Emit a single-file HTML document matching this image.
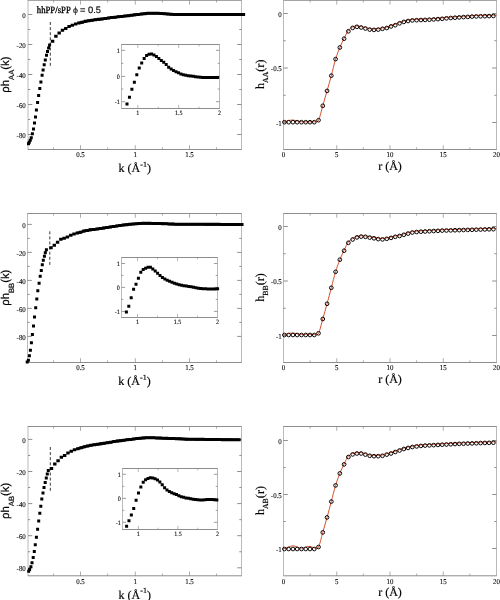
<!DOCTYPE html>
<html><head><meta charset="utf-8"><title>Figure</title>
<style>html,body{margin:0;padding:0;background:#fff;}body{width:500px;height:600px;overflow:hidden;}svg{display:block;}
text{fill:#000;stroke:#000;stroke-width:0.1px;text-rendering:geometricPrecision;} text.big{stroke-width:0.16px;}</style>
</head><body>
<svg width="500" height="600" viewBox="0 0 500 600">
<rect width="500" height="600" fill="#fff"/>
<path d="M27.75,0.3H241.75M27.75,149.5H241.75" fill="none" stroke="#808080" stroke-width="0.9"/>
<path d="M28,0.3V149.5M241.5,0.3V149.5" fill="none" stroke="#808080" stroke-width="0.55"/>
<path d="M80.5,149.5v-4.3M80.5,0.3v4.3M135.3,149.5v-4.3M135.3,0.3v4.3M189.5,149.5v-4.3M189.5,0.3v4.3M53.5,149.5v-2.2M53.5,0.3v2.2M107.6,149.5v-2.2M107.6,0.3v2.2M162.4,149.5v-2.2M162.4,0.3v2.2M216.5,149.5v-2.2M216.5,0.3v2.2" stroke="#808080" stroke-width="0.64" fill="none"/>
<path d="M28,14.5h4.3M241.5,14.5h-4.3M28,44.5h4.3M241.5,44.5h-4.3M28,74.5h4.3M241.5,74.5h-4.3M28,104.5h4.3M241.5,104.5h-4.3M28,134.5h4.3M241.5,134.5h-4.3M28,29.5h2.2M241.5,29.5h-2.2M28,59.5h2.2M241.5,59.5h-2.2M28,89.5h2.2M241.5,89.5h-2.2M28,119.5h2.2M241.5,119.5h-2.2" stroke="#808080" stroke-width="0.88" fill="none"/>
<text transform="translate(80.5,157.2) scale(0.92,1)" font-size="7.5" text-anchor="middle" font-family="'Liberation Serif', serif">0.5</text>
<text transform="translate(135.3,157.2) scale(0.92,1)" font-size="7.5" text-anchor="middle" font-family="'Liberation Serif', serif">1</text>
<text transform="translate(189.5,157.2) scale(0.92,1)" font-size="7.5" text-anchor="middle" font-family="'Liberation Serif', serif">1.5</text>
<text transform="translate(25.8,17.8) scale(0.92,1)" font-size="7.5" text-anchor="end" font-family="'Liberation Serif', serif">0</text>
<text transform="translate(25.8,47.8) scale(0.92,1)" font-size="7.5" text-anchor="end" font-family="'Liberation Serif', serif">-20</text>
<text transform="translate(25.8,77.8) scale(0.92,1)" font-size="7.5" text-anchor="end" font-family="'Liberation Serif', serif">-40</text>
<text transform="translate(25.8,107.8) scale(0.92,1)" font-size="7.5" text-anchor="end" font-family="'Liberation Serif', serif">-60</text>
<text transform="translate(25.8,137.8) scale(0.92,1)" font-size="7.5" text-anchor="end" font-family="'Liberation Serif', serif">-80</text>
<text class="big" x="134.75" y="172.3" font-size="12" text-anchor="middle" font-family="'Liberation Serif', serif">k (&#197;<tspan font-size="8" dy="-5.3">-1</tspan><tspan dy="5.3">)</tspan></text>
<text class="big" transform="translate(9.1,74.6) rotate(-90)" x="0" y="0" font-size="11.4" text-anchor="middle" font-family="'Liberation Sans', sans-serif">&#961;h<tspan font-size="7.6" dy="4.5">AA</tspan><tspan dy="-4.5">(k)</tspan></text>
<line x1="50.3" y1="22" x2="50.3" y2="66.5" stroke="#222" stroke-width="0.9" stroke-dasharray="3.0,2.1"/>
<path d="M27,142.25h3v3h-3zM27.75,140.75h3v3h-3zM28.75,138.75h3v3h-3zM29.75,136.25h3v3h-3zM30.9,132.25h3v3h-3zM32,127.5h3v3h-3zM33,121.6h3v3h-3zM34,115.4h3v3h-3zM34.9,108.4h3v3h-3zM36.1,101.1h3v3h-3zM37.15,94h3v3h-3zM38.3,86.9h3v3h-3zM39.4,80.5h3v3h-3zM40.6,73.8h3v3h-3zM41.6,68.5h3v3h-3zM42.7,63.2h3v3h-3zM43.8,58.5h3v3h-3zM45,53.8h3v3h-3zM46,50.1h3v3h-3zM47.1,46.5h3v3h-3zM48.1,43.5h3v3h-3z" fill="#000"/>
<polyline points="78.92,23.09 82.21,22.2 85.5,21.37 88.79,20.7 92.08,20.2 95.37,19.76 98.66,19.35 101.95,18.94 105.24,18.5 108.53,18.05 111.82,17.61 115.11,17.19 118.4,16.8 121.69,16.43 124.98,16.07 128.27,15.7 131.56,15.31 134.85,14.87 138.14,14.42 141.43,13.99 144.72,13.63 148.01,13.29 151.3,13.2 154.59,13.23 157.88,13.32 161.17,13.57 164.46,13.8 167.75,14.03 171.04,14.24 174.33,14.39 177.62,14.44 180.91,14.48 184.2,14.51 187.49,14.54 190.78,14.55 194.07,14.57 197.36,14.58 200.65,14.59 203.94,14.6 207.23,14.6 210.52,14.6 213.81,14.6 217.1,14.6 220.39,14.6 223.68,14.6 226.97,14.6 230.26,14.6 233.55,14.6 236.84,14.6 240.13,14.6 243.42,14.6" fill="none" stroke="#000" stroke-width="2.6" stroke-linejoin="round"/>
<path d="M50.9,39.7h3.4v3h-3.4zM54.19,34.69h3.4v3h-3.4zM57.48,31.43h3.4v3h-3.4zM60.77,28.75h3.4v3h-3.4zM64.06,26.97h3.4v3h-3.4zM67.35,24.98h3.4v3h-3.4zM70.64,23.68h3.4v3h-3.4zM73.93,22.49h3.4v3h-3.4zM77.22,21.59h3.4v3h-3.4zM80.51,20.7h3.4v3h-3.4zM83.8,19.87h3.4v3h-3.4zM87.09,19.2h3.4v3h-3.4zM90.38,18.7h3.4v3h-3.4zM93.67,18.26h3.4v3h-3.4zM96.96,17.85h3.4v3h-3.4zM100.25,17.44h3.4v3h-3.4zM103.54,17h3.4v3h-3.4zM106.83,16.55h3.4v3h-3.4zM110.12,16.11h3.4v3h-3.4zM113.41,15.69h3.4v3h-3.4zM116.7,15.3h3.4v3h-3.4zM119.99,14.93h3.4v3h-3.4zM123.28,14.57h3.4v3h-3.4zM126.57,14.2h3.4v3h-3.4zM129.86,13.81h3.4v3h-3.4zM133.15,13.37h3.4v3h-3.4zM136.44,12.92h3.4v3h-3.4zM139.73,12.49h3.4v3h-3.4zM143.02,12.13h3.4v3h-3.4zM146.31,11.79h3.4v3h-3.4zM149.6,11.7h3.4v3h-3.4zM152.89,11.73h3.4v3h-3.4zM156.18,11.82h3.4v3h-3.4zM159.47,12.07h3.4v3h-3.4zM162.76,12.3h3.4v3h-3.4zM166.05,12.53h3.4v3h-3.4zM169.34,12.74h3.4v3h-3.4zM172.63,12.89h3.4v3h-3.4zM175.92,12.94h3.4v3h-3.4zM179.21,12.98h3.4v3h-3.4zM182.5,13.01h3.4v3h-3.4zM185.79,13.04h3.4v3h-3.4zM189.08,13.05h3.4v3h-3.4zM192.37,13.07h3.4v3h-3.4zM195.66,13.08h3.4v3h-3.4zM198.95,13.09h3.4v3h-3.4zM202.24,13.1h3.4v3h-3.4zM205.53,13.1h3.4v3h-3.4zM208.82,13.1h3.4v3h-3.4zM212.11,13.1h3.4v3h-3.4zM215.4,13.1h3.4v3h-3.4zM218.69,13.1h3.4v3h-3.4zM221.98,13.1h3.4v3h-3.4zM225.27,13.1h3.4v3h-3.4zM228.56,13.1h3.4v3h-3.4zM231.85,13.1h3.4v3h-3.4zM235.14,13.1h3.4v3h-3.4zM238.43,13.1h3.4v3h-3.4zM241.72,13.1h3.4v3h-3.4z" fill="#000"/>
<path d="M121.25,44.5H219.75M121.25,108.5H219.75" fill="none" stroke="#808080" stroke-width="0.9"/>
<path d="M121.5,44.5V108.5M219.5,44.5V108.5" fill="none" stroke="#808080" stroke-width="0.55"/>
<path d="M137.83,108.5v-3.6M137.83,44.5v3.6M178.67,108.5v-3.6M178.67,44.5v3.6M158.25,108.5v-1.8M158.25,44.5v1.8M199.08,108.5v-1.8M199.08,44.5v1.8" stroke="#808080" stroke-width="0.56" fill="none"/>
<path d="M121.5,50.3h3.6M219.5,50.3h-3.6M121.5,76.4h3.6M219.5,76.4h-3.6M121.5,101.7h3.6M219.5,101.7h-3.6M121.5,63.35h1.8M219.5,63.35h-1.8M121.5,89.05h1.8M219.5,89.05h-1.8" stroke="#808080" stroke-width="0.77" fill="none"/>
<text transform="translate(137.83,115.1) scale(0.92,1)" font-size="6.6" text-anchor="middle" font-family="'Liberation Serif', serif">1</text>
<text transform="translate(178.67,115.1) scale(0.92,1)" font-size="6.6" text-anchor="middle" font-family="'Liberation Serif', serif">1.5</text>
<text transform="translate(219.5,115.1) scale(0.92,1)" font-size="6.6" text-anchor="middle" font-family="'Liberation Serif', serif">2</text>
<text transform="translate(119.9,52.9) scale(0.92,1)" font-size="6.6" text-anchor="end" font-family="'Liberation Serif', serif">1</text>
<text transform="translate(119.9,79) scale(0.92,1)" font-size="6.6" text-anchor="end" font-family="'Liberation Serif', serif">0</text>
<text transform="translate(119.9,104.3) scale(0.92,1)" font-size="6.6" text-anchor="end" font-family="'Liberation Serif', serif">-1</text>
<path d="M125.5,102.5h3v3h-3zM127.95,95.65h3v3h-3zM130.4,87.7h3v3h-3zM132.85,80.85h3v3h-3zM135.3,73.3h3v3h-3zM137.75,66.62h3v3h-3zM140.2,61.4h3v3h-3zM142.65,57.08h3v3h-3zM145.1,53.93h3v3h-3zM147.55,52.69h3v3h-3zM150,52.4h3v3h-3zM152.45,53.53h3v3h-3zM154.9,54.97h3v3h-3zM157.35,57.04h3v3h-3zM159.8,58.93h3v3h-3zM162.25,60.68h3v3h-3zM164.7,63.09h3v3h-3zM167.15,65.74h3v3h-3zM169.6,67.61h3v3h-3zM172.05,69.06h3v3h-3zM174.5,70.25h3v3h-3zM176.95,71.35h3v3h-3zM179.4,72.4h3v3h-3zM181.85,73.19h3v3h-3zM184.3,73.74h3v3h-3zM186.75,74.18h3v3h-3zM189.2,74.55h3v3h-3zM191.65,74.87h3v3h-3zM194.1,75.18h3v3h-3zM196.55,75.5h3v3h-3zM199,75.76h3v3h-3zM201.45,75.94h3v3h-3zM203.9,76.07h3v3h-3zM206.35,76.1h3v3h-3zM208.8,76.1h3v3h-3zM211.25,76.1h3v3h-3zM213.7,76.1h3v3h-3zM216.15,76.1h3v3h-3z" fill="#000"/>
<text class="big" style="stroke-width:0.32px" transform="translate(36.8,13.0) scale(0.9,1)" font-size="9.7" font-family="'Liberation Serif', serif">hhPP/sPP</text>
<text class="big" x="75.4" y="12.9" font-size="9.4" text-anchor="middle" font-family="'Liberation Serif', serif">&#981;</text>
<text class="big" x="80.1" y="12.6" font-size="9.3" font-family="'Liberation Sans', sans-serif">= 0.5</text>
<path d="M27.25,213.5H241.75M27.25,362.5H241.75" fill="none" stroke="#808080" stroke-width="0.9"/>
<path d="M27.5,213.5V362.5M241.5,213.5V362.5" fill="none" stroke="#808080" stroke-width="0.55"/>
<path d="M80.5,362.5v-4.3M80.5,213.5v4.3M135.3,362.5v-4.3M135.3,213.5v4.3M189.5,362.5v-4.3M189.5,213.5v4.3M53.5,362.5v-2.2M53.5,213.5v2.2M107.6,362.5v-2.2M107.6,213.5v2.2M162.4,362.5v-2.2M162.4,213.5v2.2M216.5,362.5v-2.2M216.5,213.5v2.2" stroke="#808080" stroke-width="0.64" fill="none"/>
<path d="M27.5,224.4h4.3M241.5,224.4h-4.3M27.5,252.4h4.3M241.5,252.4h-4.3M27.5,280.4h4.3M241.5,280.4h-4.3M27.5,308.4h4.3M241.5,308.4h-4.3M27.5,336.4h4.3M241.5,336.4h-4.3M27.5,238.4h2.2M241.5,238.4h-2.2M27.5,266.4h2.2M241.5,266.4h-2.2M27.5,294.4h2.2M241.5,294.4h-2.2M27.5,322.4h2.2M241.5,322.4h-2.2" stroke="#808080" stroke-width="0.88" fill="none"/>
<text transform="translate(80.5,370.2) scale(0.92,1)" font-size="7.5" text-anchor="middle" font-family="'Liberation Serif', serif">0.5</text>
<text transform="translate(135.3,370.2) scale(0.92,1)" font-size="7.5" text-anchor="middle" font-family="'Liberation Serif', serif">1</text>
<text transform="translate(189.5,370.2) scale(0.92,1)" font-size="7.5" text-anchor="middle" font-family="'Liberation Serif', serif">1.5</text>
<text transform="translate(25.8,227.7) scale(0.92,1)" font-size="7.5" text-anchor="end" font-family="'Liberation Serif', serif">0</text>
<text transform="translate(25.8,255.7) scale(0.92,1)" font-size="7.5" text-anchor="end" font-family="'Liberation Serif', serif">-20</text>
<text transform="translate(25.8,283.7) scale(0.92,1)" font-size="7.5" text-anchor="end" font-family="'Liberation Serif', serif">-40</text>
<text transform="translate(25.8,311.7) scale(0.92,1)" font-size="7.5" text-anchor="end" font-family="'Liberation Serif', serif">-60</text>
<text transform="translate(25.8,339.7) scale(0.92,1)" font-size="7.5" text-anchor="end" font-family="'Liberation Serif', serif">-80</text>
<text class="big" x="134.5" y="385.3" font-size="12" text-anchor="middle" font-family="'Liberation Serif', serif">k (&#197;<tspan font-size="8" dy="-5.3">-1</tspan><tspan dy="5.3">)</tspan></text>
<text class="big" transform="translate(9.1,287.7) rotate(-90)" x="0" y="0" font-size="11.4" text-anchor="middle" font-family="'Liberation Sans', sans-serif">&#961;h<tspan font-size="7.6" dy="4.5">BB</tspan><tspan dy="-4.5">(k)</tspan></text>
<line x1="49.8" y1="231.3" x2="49.8" y2="265.3" stroke="#222" stroke-width="0.9" stroke-dasharray="3.0,2.1"/>
<path d="M25.7,360.5h3v3h-3zM26.9,358.7h3v3h-3zM27.9,354.3h3v3h-3zM28.9,348.7h3v3h-3zM29.9,341.3h3v3h-3zM30.9,333.1h3v3h-3zM32,324.5h3v3h-3zM33,315.5h3v3h-3zM34.2,306.3h3v3h-3zM35.3,297.5h3v3h-3zM36.3,289.2h3v3h-3zM37.6,281.7h3v3h-3zM38.7,274.8h3v3h-3zM39.8,268.9h3v3h-3zM40.8,263.2h3v3h-3zM41.8,258.8h3v3h-3zM42.9,254.8h3v3h-3zM43.8,251.2h3v3h-3zM44.9,248.2h3v3h-3z" fill="#000"/>
<polyline points="77.32,233.07 80.61,232.17 83.9,231.12 87.19,230.39 90.48,229.87 93.77,229.44 97.06,229.03 100.35,228.59 103.64,228.09 106.93,227.55 110.22,227 113.51,226.47 116.8,225.99 120.09,225.51 123.38,225.05 126.67,224.64 129.96,224.29 133.25,224.01 136.54,223.74 139.83,223.51 143.12,223.35 146.41,223.3 149.7,223.33 152.99,223.39 156.28,223.47 159.57,223.56 162.86,223.66 166.15,223.81 169.44,223.98 172.73,224.12 176.02,224.2 179.31,224.23 182.6,224.25 185.89,224.27 189.18,224.28 192.47,224.29 195.76,224.3 199.05,224.31 202.34,224.32 205.63,224.33 208.92,224.34 212.21,224.35 215.5,224.36 218.79,224.37 222.08,224.38 225.37,224.38 228.66,224.39 231.95,224.39 235.24,224.4 238.53,224.4 241.82,224.4" fill="none" stroke="#000" stroke-width="2.6" stroke-linejoin="round"/>
<path d="M49.3,246.2h3.4v3h-3.4zM52.59,243.83h3.4v3h-3.4zM55.88,240.73h3.4v3h-3.4zM59.17,237.81h3.4v3h-3.4zM62.46,236.64h3.4v3h-3.4zM65.75,235.43h3.4v3h-3.4zM69.04,233.64h3.4v3h-3.4zM72.33,232.46h3.4v3h-3.4zM75.62,231.57h3.4v3h-3.4zM78.91,230.67h3.4v3h-3.4zM82.2,229.62h3.4v3h-3.4zM85.49,228.89h3.4v3h-3.4zM88.78,228.37h3.4v3h-3.4zM92.07,227.94h3.4v3h-3.4zM95.36,227.53h3.4v3h-3.4zM98.65,227.09h3.4v3h-3.4zM101.94,226.59h3.4v3h-3.4zM105.23,226.05h3.4v3h-3.4zM108.52,225.5h3.4v3h-3.4zM111.81,224.97h3.4v3h-3.4zM115.1,224.49h3.4v3h-3.4zM118.39,224.01h3.4v3h-3.4zM121.68,223.55h3.4v3h-3.4zM124.97,223.14h3.4v3h-3.4zM128.26,222.79h3.4v3h-3.4zM131.55,222.51h3.4v3h-3.4zM134.84,222.24h3.4v3h-3.4zM138.13,222.01h3.4v3h-3.4zM141.42,221.85h3.4v3h-3.4zM144.71,221.8h3.4v3h-3.4zM148,221.83h3.4v3h-3.4zM151.29,221.89h3.4v3h-3.4zM154.58,221.97h3.4v3h-3.4zM157.87,222.06h3.4v3h-3.4zM161.16,222.16h3.4v3h-3.4zM164.45,222.31h3.4v3h-3.4zM167.74,222.48h3.4v3h-3.4zM171.03,222.62h3.4v3h-3.4zM174.32,222.7h3.4v3h-3.4zM177.61,222.73h3.4v3h-3.4zM180.9,222.75h3.4v3h-3.4zM184.19,222.77h3.4v3h-3.4zM187.48,222.78h3.4v3h-3.4zM190.77,222.79h3.4v3h-3.4zM194.06,222.8h3.4v3h-3.4zM197.35,222.81h3.4v3h-3.4zM200.64,222.82h3.4v3h-3.4zM203.93,222.83h3.4v3h-3.4zM207.22,222.84h3.4v3h-3.4zM210.51,222.85h3.4v3h-3.4zM213.8,222.86h3.4v3h-3.4zM217.09,222.87h3.4v3h-3.4zM220.38,222.88h3.4v3h-3.4zM223.67,222.88h3.4v3h-3.4zM226.96,222.89h3.4v3h-3.4zM230.25,222.89h3.4v3h-3.4zM233.54,222.9h3.4v3h-3.4zM236.83,222.9h3.4v3h-3.4zM240.12,222.9h3.4v3h-3.4z" fill="#000"/>
<path d="M121.25,257.5H217.75M121.25,317.5H217.75" fill="none" stroke="#808080" stroke-width="0.9"/>
<path d="M121.5,257.5V317.5M217.5,257.5V317.5" fill="none" stroke="#808080" stroke-width="0.55"/>
<path d="M137.5,317.5v-3.6M137.5,257.5v3.6M177.5,317.5v-3.6M177.5,257.5v3.6M157.5,317.5v-1.8M157.5,257.5v1.8M197.5,317.5v-1.8M197.5,257.5v1.8" stroke="#808080" stroke-width="0.56" fill="none"/>
<path d="M121.5,263.5h3.6M217.5,263.5h-3.6M121.5,287.4h3.6M217.5,287.4h-3.6M121.5,311.4h3.6M217.5,311.4h-3.6M121.5,275.45h1.8M217.5,275.45h-1.8M121.5,299.4h1.8M217.5,299.4h-1.8" stroke="#808080" stroke-width="0.77" fill="none"/>
<text transform="translate(137.5,324.1) scale(0.92,1)" font-size="6.6" text-anchor="middle" font-family="'Liberation Serif', serif">1</text>
<text transform="translate(177.5,324.1) scale(0.92,1)" font-size="6.6" text-anchor="middle" font-family="'Liberation Serif', serif">1.5</text>
<text transform="translate(217.5,324.1) scale(0.92,1)" font-size="6.6" text-anchor="middle" font-family="'Liberation Serif', serif">2</text>
<text transform="translate(119.9,266.1) scale(0.92,1)" font-size="6.6" text-anchor="end" font-family="'Liberation Serif', serif">1</text>
<text transform="translate(119.9,290) scale(0.92,1)" font-size="6.6" text-anchor="end" font-family="'Liberation Serif', serif">0</text>
<text transform="translate(119.9,314) scale(0.92,1)" font-size="6.6" text-anchor="end" font-family="'Liberation Serif', serif">-1</text>
<path d="M124.9,310.6h3v3h-3zM127.3,304.78h3v3h-3zM129.7,296.19h3v3h-3zM132.1,287.84h3v3h-3zM134.5,282.86h3v3h-3zM136.9,276.77h3v3h-3zM139.3,270.82h3v3h-3zM141.7,268.11h3v3h-3zM144.1,266.83h3v3h-3zM146.5,265.73h3v3h-3zM148.9,265.7h3v3h-3zM151.3,267.42h3v3h-3zM153.7,269.61h3v3h-3zM156.1,271.7h3v3h-3zM158.5,273.99h3v3h-3zM160.9,276.07h3v3h-3zM163.3,277.5h3v3h-3zM165.7,278.68h3v3h-3zM168.1,279.77h3v3h-3zM170.5,280.83h3v3h-3zM172.9,281.77h3v3h-3zM175.3,282.54h3v3h-3zM177.7,283.17h3v3h-3zM180.1,283.72h3v3h-3zM182.5,284.18h3v3h-3zM184.9,284.55h3v3h-3zM187.3,284.9h3v3h-3zM189.7,285.33h3v3h-3zM192.1,285.86h3v3h-3zM194.5,286.35h3v3h-3zM196.9,286.68h3v3h-3zM199.3,286.93h3v3h-3zM201.7,287.14h3v3h-3zM204.1,287.32h3v3h-3zM206.5,287.5h3v3h-3zM208.9,287.6h3v3h-3zM211.3,287.58h3v3h-3zM213.7,287.5h3v3h-3zM216.1,287.33h3v3h-3z" fill="#000"/>
<path d="M27.75,426.5H241.75M27.75,575.8H241.75" fill="none" stroke="#808080" stroke-width="0.9"/>
<path d="M28,426.5V575.8M241.5,426.5V575.8" fill="none" stroke="#808080" stroke-width="0.55"/>
<path d="M80.5,575.8v-4.3M80.5,426.5v4.3M135.3,575.8v-4.3M135.3,426.5v4.3M189.5,575.8v-4.3M189.5,426.5v4.3M53.5,575.8v-2.2M53.5,426.5v2.2M107.6,575.8v-2.2M107.6,426.5v2.2M162.4,575.8v-2.2M162.4,426.5v2.2M216.5,575.8v-2.2M216.5,426.5v2.2" stroke="#808080" stroke-width="0.64" fill="none"/>
<path d="M28,439.4h4.3M241.5,439.4h-4.3M28,471.5h4.3M241.5,471.5h-4.3M28,503.6h4.3M241.5,503.6h-4.3M28,535.7h4.3M241.5,535.7h-4.3M28,567.8h4.3M241.5,567.8h-4.3M28,455.45h2.2M241.5,455.45h-2.2M28,487.55h2.2M241.5,487.55h-2.2M28,519.65h2.2M241.5,519.65h-2.2M28,551.75h2.2M241.5,551.75h-2.2" stroke="#808080" stroke-width="0.88" fill="none"/>
<text transform="translate(80.5,583.5) scale(0.92,1)" font-size="7.5" text-anchor="middle" font-family="'Liberation Serif', serif">0.5</text>
<text transform="translate(135.3,583.5) scale(0.92,1)" font-size="7.5" text-anchor="middle" font-family="'Liberation Serif', serif">1</text>
<text transform="translate(189.5,583.5) scale(0.92,1)" font-size="7.5" text-anchor="middle" font-family="'Liberation Serif', serif">1.5</text>
<text transform="translate(25.8,442.7) scale(0.92,1)" font-size="7.5" text-anchor="end" font-family="'Liberation Serif', serif">0</text>
<text transform="translate(25.8,474.8) scale(0.92,1)" font-size="7.5" text-anchor="end" font-family="'Liberation Serif', serif">-20</text>
<text transform="translate(25.8,506.9) scale(0.92,1)" font-size="7.5" text-anchor="end" font-family="'Liberation Serif', serif">-40</text>
<text transform="translate(25.8,539) scale(0.92,1)" font-size="7.5" text-anchor="end" font-family="'Liberation Serif', serif">-60</text>
<text transform="translate(25.8,571.1) scale(0.92,1)" font-size="7.5" text-anchor="end" font-family="'Liberation Serif', serif">-80</text>
<text class="big" x="134.75" y="598.6" font-size="12" text-anchor="middle" font-family="'Liberation Serif', serif">k (&#197;<tspan font-size="8" dy="-5.3">-1</tspan><tspan dy="5.3">)</tspan></text>
<text class="big" transform="translate(9.1,500.85) rotate(-90)" x="0" y="0" font-size="11.4" text-anchor="middle" font-family="'Liberation Sans', sans-serif">&#961;h<tspan font-size="7.6" dy="4.5">AB</tspan><tspan dy="-4.5">(k)</tspan></text>
<line x1="50.3" y1="447" x2="50.3" y2="491" stroke="#222" stroke-width="0.9" stroke-dasharray="3.0,2.1"/>
<path d="M27.2,569.8h3v3h-3zM28.1,568.1h3v3h-3zM29.4,565.2h3v3h-3zM30.5,561.2h3v3h-3zM31.7,556.1h3v3h-3zM32.8,550.1h3v3h-3zM33.8,543.2h3v3h-3zM34.9,535.8h3v3h-3zM36.1,527.8h3v3h-3zM37.2,519.6h3v3h-3zM38.3,511.8h3v3h-3zM39.3,504.8h3v3h-3zM40.3,497.5h3v3h-3zM41.5,491.5h3v3h-3zM42.5,486h3v3h-3zM43.7,481h3v3h-3zM44.8,476.5h3v3h-3zM45.8,472.5h3v3h-3zM46.8,469h3v3h-3z" fill="#000"/>
<polyline points="77.82,448.66 81.11,447.67 84.4,446.87 87.69,445.98 90.98,445.34 94.27,444.81 97.56,444.32 100.85,443.84 104.14,443.31 107.43,442.75 110.72,442.17 114.01,441.62 117.3,441.1 120.59,440.63 123.88,440.19 127.17,439.77 130.46,439.38 133.75,439.02 137.04,438.62 140.33,438.22 143.62,437.89 146.91,437.71 150.2,437.72 153.49,437.81 156.78,437.94 160.07,438.08 163.36,438.21 166.65,438.34 169.94,438.48 173.23,438.61 176.52,438.74 179.81,438.87 183.1,439 186.39,439.13 189.68,439.23 192.97,439.3 196.26,439.33 199.55,439.35 202.84,439.37 206.13,439.4 209.42,439.45 212.71,439.51 216,439.57 219.29,439.6 222.58,439.63 225.87,439.65 229.16,439.67 232.45,439.68 235.74,439.69 239.03,439.7" fill="none" stroke="#000" stroke-width="2.6" stroke-linejoin="round"/>
<path d="M49.8,467h3.4v3h-3.4zM53.09,462.41h3.4v3h-3.4zM56.38,459.32h3.4v3h-3.4zM59.67,455.78h3.4v3h-3.4zM62.96,454h3.4v3h-3.4zM66.25,451.61h3.4v3h-3.4zM69.54,449.83h3.4v3h-3.4zM72.83,448.35h3.4v3h-3.4zM76.12,447.16h3.4v3h-3.4zM79.41,446.17h3.4v3h-3.4zM82.7,445.37h3.4v3h-3.4zM85.99,444.48h3.4v3h-3.4zM89.28,443.84h3.4v3h-3.4zM92.57,443.31h3.4v3h-3.4zM95.86,442.82h3.4v3h-3.4zM99.15,442.34h3.4v3h-3.4zM102.44,441.81h3.4v3h-3.4zM105.73,441.25h3.4v3h-3.4zM109.02,440.67h3.4v3h-3.4zM112.31,440.12h3.4v3h-3.4zM115.6,439.6h3.4v3h-3.4zM118.89,439.13h3.4v3h-3.4zM122.18,438.69h3.4v3h-3.4zM125.47,438.27h3.4v3h-3.4zM128.76,437.88h3.4v3h-3.4zM132.05,437.52h3.4v3h-3.4zM135.34,437.12h3.4v3h-3.4zM138.63,436.72h3.4v3h-3.4zM141.92,436.39h3.4v3h-3.4zM145.21,436.21h3.4v3h-3.4zM148.5,436.22h3.4v3h-3.4zM151.79,436.31h3.4v3h-3.4zM155.08,436.44h3.4v3h-3.4zM158.37,436.58h3.4v3h-3.4zM161.66,436.71h3.4v3h-3.4zM164.95,436.84h3.4v3h-3.4zM168.24,436.98h3.4v3h-3.4zM171.53,437.11h3.4v3h-3.4zM174.82,437.24h3.4v3h-3.4zM178.11,437.37h3.4v3h-3.4zM181.4,437.5h3.4v3h-3.4zM184.69,437.63h3.4v3h-3.4zM187.98,437.73h3.4v3h-3.4zM191.27,437.8h3.4v3h-3.4zM194.56,437.83h3.4v3h-3.4zM197.85,437.85h3.4v3h-3.4zM201.14,437.87h3.4v3h-3.4zM204.43,437.9h3.4v3h-3.4zM207.72,437.95h3.4v3h-3.4zM211.01,438.01h3.4v3h-3.4zM214.3,438.07h3.4v3h-3.4zM217.59,438.1h3.4v3h-3.4zM220.88,438.13h3.4v3h-3.4zM224.17,438.15h3.4v3h-3.4zM227.46,438.17h3.4v3h-3.4zM230.75,438.18h3.4v3h-3.4zM234.04,438.19h3.4v3h-3.4zM237.33,438.2h3.4v3h-3.4z" fill="#000"/>
<path d="M122.25,468.5H217.75M122.25,529.5H217.75" fill="none" stroke="#808080" stroke-width="0.9"/>
<path d="M122.5,468.5V529.5M217.5,468.5V529.5" fill="none" stroke="#808080" stroke-width="0.55"/>
<path d="M138.33,529.5v-3.6M138.33,468.5v3.6M177.92,529.5v-3.6M177.92,468.5v3.6M158.12,529.5v-1.8M158.12,468.5v1.8M197.71,529.5v-1.8M197.71,468.5v1.8" stroke="#808080" stroke-width="0.56" fill="none"/>
<path d="M122.5,474.3h3.6M217.5,474.3h-3.6M122.5,498.4h3.6M217.5,498.4h-3.6M122.5,522.3h3.6M217.5,522.3h-3.6M122.5,486.35h1.8M217.5,486.35h-1.8M122.5,510.35h1.8M217.5,510.35h-1.8" stroke="#808080" stroke-width="0.77" fill="none"/>
<text transform="translate(138.33,536.1) scale(0.92,1)" font-size="6.6" text-anchor="middle" font-family="'Liberation Serif', serif">1</text>
<text transform="translate(177.92,536.1) scale(0.92,1)" font-size="6.6" text-anchor="middle" font-family="'Liberation Serif', serif">1.5</text>
<text transform="translate(217.5,536.1) scale(0.92,1)" font-size="6.6" text-anchor="middle" font-family="'Liberation Serif', serif">2</text>
<text transform="translate(120.9,476.9) scale(0.92,1)" font-size="6.6" text-anchor="end" font-family="'Liberation Serif', serif">1</text>
<text transform="translate(120.9,501) scale(0.92,1)" font-size="6.6" text-anchor="end" font-family="'Liberation Serif', serif">0</text>
<text transform="translate(120.9,524.9) scale(0.92,1)" font-size="6.6" text-anchor="end" font-family="'Liberation Serif', serif">-1</text>
<path d="M125.1,524.7h3v3h-3zM127.47,519.14h3v3h-3zM129.85,513.4h3v3h-3zM132.22,506.95h3v3h-3zM134.6,498.67h3v3h-3zM136.97,491.51h3v3h-3zM139.35,485.57h3v3h-3zM141.72,480.78h3v3h-3zM144.1,478.31h3v3h-3zM146.47,476.98h3v3h-3zM148.85,476.34h3v3h-3zM151.22,476.53h3v3h-3zM153.6,477.23h3v3h-3zM155.97,478.4h3v3h-3zM158.35,480.44h3v3h-3zM160.72,483.36h3v3h-3zM163.1,486.18h3v3h-3zM165.47,488.38h3v3h-3zM167.85,490h3v3h-3zM170.22,491.16h3v3h-3zM172.6,492.13h3v3h-3zM174.97,493.1h3v3h-3zM177.35,494.15h3v3h-3zM179.72,495.13h3v3h-3zM182.1,495.85h3v3h-3zM184.47,496.38h3v3h-3zM186.85,496.81h3v3h-3zM189.22,497.23h3v3h-3zM191.6,497.65h3v3h-3zM193.97,498.02h3v3h-3zM196.35,498.28h3v3h-3zM198.72,498.48h3v3h-3zM201.1,498.44h3v3h-3zM203.47,498.16h3v3h-3zM205.85,497.92h3v3h-3zM208.22,497.94h3v3h-3zM210.6,498.09h3v3h-3zM212.97,498.24h3v3h-3zM215.35,498.38h3v3h-3z" fill="#000"/>
<path d="M283.25,0.3H496.75M283.25,149.5H496.75" fill="none" stroke="#808080" stroke-width="0.9"/>
<path d="M283.5,0.3V149.5M496.5,0.3V149.5" fill="none" stroke="#808080" stroke-width="0.55"/>
<path d="M336.75,149.5v-4.3M336.75,0.3v4.3M390,149.5v-4.3M390,0.3v4.3M443.25,149.5v-4.3M443.25,0.3v4.3M310.12,149.5v-2.2M310.12,0.3v2.2M363.38,149.5v-2.2M363.38,0.3v2.2M416.62,149.5v-2.2M416.62,0.3v2.2M469.88,149.5v-2.2M469.88,0.3v2.2" stroke="#808080" stroke-width="0.64" fill="none"/>
<path d="M283.5,13.5h4.3M496.5,13.5h-4.3M283.5,68h4.3M496.5,68h-4.3M283.5,122.5h4.3M496.5,122.5h-4.3M283.5,40.75h2.2M496.5,40.75h-2.2M283.5,95.25h2.2M496.5,95.25h-2.2" stroke="#808080" stroke-width="0.88" fill="none"/>
<text transform="translate(283.5,157.2) scale(0.92,1)" font-size="7.5" text-anchor="middle" font-family="'Liberation Serif', serif">0</text>
<text transform="translate(336.75,157.2) scale(0.92,1)" font-size="7.5" text-anchor="middle" font-family="'Liberation Serif', serif">5</text>
<text transform="translate(390,157.2) scale(0.92,1)" font-size="7.5" text-anchor="middle" font-family="'Liberation Serif', serif">10</text>
<text transform="translate(443.25,157.2) scale(0.92,1)" font-size="7.5" text-anchor="middle" font-family="'Liberation Serif', serif">15</text>
<text transform="translate(496.5,157.2) scale(0.92,1)" font-size="7.5" text-anchor="middle" font-family="'Liberation Serif', serif">20</text>
<text transform="translate(281.8,16.8) scale(0.92,1)" font-size="7.5" text-anchor="end" font-family="'Liberation Serif', serif">0</text>
<text transform="translate(281.8,71.3) scale(0.92,1)" font-size="7.5" text-anchor="end" font-family="'Liberation Serif', serif">-0.5</text>
<text transform="translate(281.8,125.8) scale(0.92,1)" font-size="7.5" text-anchor="end" font-family="'Liberation Serif', serif">-1</text>
<text class="big" x="390" y="169.7" font-size="12" text-anchor="middle" font-family="'Liberation Serif', serif">r (&#197;)</text>
<text class="big" transform="translate(264.0,74.3) rotate(-90)" x="0" y="0" font-size="12.2" text-anchor="middle" font-family="'Liberation Serif', serif">h<tspan font-size="7.8" dy="4.1">AA</tspan><tspan dy="-4.1">(r)</tspan></text>
<path d="M283.4,121.9C283.57,121.85 283.52,121.82 284.4,121.6C285.28,121.38 287.24,120.87 288.66,120.6C290.09,120.33 291.51,119.93 292.93,120C294.35,120.07 295.77,120.72 297.19,121C298.62,121.28 300.04,121.57 301.46,121.7C302.88,121.83 304.3,121.8 305.72,121.8C307.15,121.8 308.57,121.7 309.99,121.7C311.41,121.7 312.83,122.05 314.25,121.8C315.68,121.55 317.1,122.87 318.52,120.2C319.94,117.53 321.36,110.68 322.78,105.8C324.21,100.92 325.63,95.92 327.05,90.9C328.47,85.88 329.89,81 331.31,75.7C332.74,70.4 334.16,63.8 335.58,59.1C337,54.4 338.42,50.97 339.84,47.5C341.27,44.03 342.69,41.15 344.11,38.3C345.53,35.45 346.95,32.28 348.38,30.4C349.8,28.52 351.22,27.75 352.64,27C354.06,26.25 355.48,25.97 356.9,25.9C358.33,25.83 359.75,26.32 361.17,26.6C362.59,26.88 364.01,27.25 365.43,27.6C366.86,27.95 368.28,28.47 369.7,28.7C371.12,28.93 372.54,29 373.96,29C375.39,29 376.81,28.88 378.23,28.7C379.65,28.52 381.07,28.17 382.5,27.9C383.92,27.63 385.34,27.5 386.76,27.1C388.18,26.7 389.6,25.97 391.02,25.5C392.45,25.03 393.87,24.82 395.29,24.3C396.71,23.78 398.13,22.95 399.55,22.4C400.98,21.85 402.4,21.38 403.82,21C405.24,20.62 406.66,20.35 408.08,20.1C409.51,19.85 410.93,19.63 412.35,19.5C413.77,19.37 415.19,19.37 416.62,19.3C418.04,19.23 419.46,19.15 420.88,19.1C422.3,19.05 423.72,19.05 425.14,19C426.57,18.95 427.99,18.88 429.41,18.8C430.83,18.72 432.25,18.6 433.67,18.5C435.1,18.4 436.52,18.3 437.94,18.2C439.36,18.1 440.78,18.03 442.2,17.9C443.63,17.77 445.05,17.53 446.47,17.4C447.89,17.27 449.31,17.2 450.73,17.1C452.16,17 453.58,16.9 455,16.8C456.42,16.7 457.84,16.6 459.26,16.5C460.69,16.4 462.11,16.28 463.53,16.2C464.95,16.12 466.37,16.08 467.79,16C469.22,15.92 470.64,15.78 472.06,15.7C473.48,15.62 474.9,15.55 476.32,15.5C477.75,15.45 479.17,15.43 480.59,15.4C482.01,15.37 483.43,15.33 484.85,15.3C486.28,15.27 487.7,15.23 489.12,15.2C490.54,15.17 492.14,15.12 493.38,15.1C494.63,15.08 496.06,15.1 496.6,15.1" fill="none" stroke="#d4532e" stroke-width="1"/>
<circle cx="284.4" cy="122.2" r="1.85" fill="none" stroke="#0a0302" stroke-width="1"/>
<circle cx="288.66" cy="122.2" r="1.85" fill="none" stroke="#0a0302" stroke-width="1"/>
<circle cx="292.93" cy="122.2" r="1.85" fill="none" stroke="#0a0302" stroke-width="1"/>
<circle cx="297.19" cy="122.2" r="1.85" fill="none" stroke="#0a0302" stroke-width="1"/>
<circle cx="301.46" cy="122.2" r="1.85" fill="none" stroke="#0a0302" stroke-width="1"/>
<circle cx="305.72" cy="122.2" r="1.85" fill="none" stroke="#0a0302" stroke-width="1"/>
<circle cx="309.99" cy="122.2" r="1.85" fill="none" stroke="#0a0302" stroke-width="1"/>
<circle cx="314.25" cy="122.2" r="1.85" fill="none" stroke="#0a0302" stroke-width="1"/>
<circle cx="318.52" cy="120.2" r="1.85" fill="none" stroke="#0a0302" stroke-width="1"/>
<circle cx="322.78" cy="105.8" r="1.85" fill="none" stroke="#0a0302" stroke-width="1"/>
<circle cx="327.05" cy="90.9" r="1.85" fill="none" stroke="#0a0302" stroke-width="1"/>
<circle cx="331.31" cy="75.7" r="1.85" fill="none" stroke="#0a0302" stroke-width="1"/>
<circle cx="335.58" cy="59.1" r="1.85" fill="none" stroke="#0a0302" stroke-width="1"/>
<circle cx="339.84" cy="47.5" r="1.85" fill="none" stroke="#0a0302" stroke-width="1"/>
<circle cx="344.11" cy="38.7" r="1.85" fill="none" stroke="#0a0302" stroke-width="1"/>
<circle cx="348.38" cy="31.3" r="1.85" fill="none" stroke="#0a0302" stroke-width="1"/>
<circle cx="352.64" cy="27.9" r="1.85" fill="none" stroke="#0a0302" stroke-width="1"/>
<circle cx="356.9" cy="26.8" r="1.85" fill="none" stroke="#0a0302" stroke-width="1"/>
<circle cx="361.17" cy="27.5" r="1.85" fill="none" stroke="#0a0302" stroke-width="1"/>
<circle cx="365.43" cy="28.5" r="1.85" fill="none" stroke="#0a0302" stroke-width="1"/>
<circle cx="369.7" cy="29.6" r="1.85" fill="none" stroke="#0a0302" stroke-width="1"/>
<circle cx="373.96" cy="29.9" r="1.85" fill="none" stroke="#0a0302" stroke-width="1"/>
<circle cx="378.23" cy="29.6" r="1.85" fill="none" stroke="#0a0302" stroke-width="1"/>
<circle cx="382.5" cy="28.8" r="1.85" fill="none" stroke="#0a0302" stroke-width="1"/>
<circle cx="386.76" cy="28" r="1.85" fill="none" stroke="#0a0302" stroke-width="1"/>
<circle cx="391.02" cy="26.4" r="1.85" fill="none" stroke="#0a0302" stroke-width="1"/>
<circle cx="395.29" cy="25.2" r="1.85" fill="none" stroke="#0a0302" stroke-width="1"/>
<circle cx="399.55" cy="23.3" r="1.85" fill="none" stroke="#0a0302" stroke-width="1"/>
<circle cx="403.82" cy="21.9" r="1.85" fill="none" stroke="#0a0302" stroke-width="1"/>
<circle cx="408.08" cy="21" r="1.85" fill="none" stroke="#0a0302" stroke-width="1"/>
<circle cx="412.35" cy="20.4" r="1.85" fill="none" stroke="#0a0302" stroke-width="1"/>
<circle cx="416.62" cy="20.2" r="1.85" fill="none" stroke="#0a0302" stroke-width="1"/>
<circle cx="420.88" cy="20" r="1.85" fill="none" stroke="#0a0302" stroke-width="1"/>
<circle cx="425.14" cy="19.9" r="1.85" fill="none" stroke="#0a0302" stroke-width="1"/>
<circle cx="429.41" cy="19.7" r="1.85" fill="none" stroke="#0a0302" stroke-width="1"/>
<circle cx="433.67" cy="19.4" r="1.85" fill="none" stroke="#0a0302" stroke-width="1"/>
<circle cx="437.94" cy="19.1" r="1.85" fill="none" stroke="#0a0302" stroke-width="1"/>
<circle cx="442.2" cy="18.8" r="1.85" fill="none" stroke="#0a0302" stroke-width="1"/>
<circle cx="446.47" cy="18.3" r="1.85" fill="none" stroke="#0a0302" stroke-width="1"/>
<circle cx="450.73" cy="18" r="1.85" fill="none" stroke="#0a0302" stroke-width="1"/>
<circle cx="455" cy="17.7" r="1.85" fill="none" stroke="#0a0302" stroke-width="1"/>
<circle cx="459.26" cy="17.4" r="1.85" fill="none" stroke="#0a0302" stroke-width="1"/>
<circle cx="463.53" cy="17.1" r="1.85" fill="none" stroke="#0a0302" stroke-width="1"/>
<circle cx="467.79" cy="16.9" r="1.85" fill="none" stroke="#0a0302" stroke-width="1"/>
<circle cx="472.06" cy="16.6" r="1.85" fill="none" stroke="#0a0302" stroke-width="1"/>
<circle cx="476.32" cy="16.4" r="1.85" fill="none" stroke="#0a0302" stroke-width="1"/>
<circle cx="480.59" cy="16.3" r="1.85" fill="none" stroke="#0a0302" stroke-width="1"/>
<circle cx="484.85" cy="16.2" r="1.85" fill="none" stroke="#0a0302" stroke-width="1"/>
<circle cx="489.12" cy="16.1" r="1.85" fill="none" stroke="#0a0302" stroke-width="1"/>
<circle cx="493.38" cy="16" r="1.85" fill="none" stroke="#0a0302" stroke-width="1"/>
<path d="M283.25,213.5H496.75M283.25,362.5H496.75" fill="none" stroke="#808080" stroke-width="0.9"/>
<path d="M283.5,213.5V362.5M496.5,213.5V362.5" fill="none" stroke="#808080" stroke-width="0.55"/>
<path d="M336.75,362.5v-4.3M336.75,213.5v4.3M390,362.5v-4.3M390,213.5v4.3M443.25,362.5v-4.3M443.25,213.5v4.3M310.12,362.5v-2.2M310.12,213.5v2.2M363.38,362.5v-2.2M363.38,213.5v2.2M416.62,362.5v-2.2M416.62,213.5v2.2M469.88,362.5v-2.2M469.88,213.5v2.2" stroke="#808080" stroke-width="0.64" fill="none"/>
<path d="M283.5,226.5h4.3M496.5,226.5h-4.3M283.5,281h4.3M496.5,281h-4.3M283.5,335.5h4.3M496.5,335.5h-4.3M283.5,253.75h2.2M496.5,253.75h-2.2M283.5,308.25h2.2M496.5,308.25h-2.2" stroke="#808080" stroke-width="0.88" fill="none"/>
<text transform="translate(283.5,370.2) scale(0.92,1)" font-size="7.5" text-anchor="middle" font-family="'Liberation Serif', serif">0</text>
<text transform="translate(336.75,370.2) scale(0.92,1)" font-size="7.5" text-anchor="middle" font-family="'Liberation Serif', serif">5</text>
<text transform="translate(390,370.2) scale(0.92,1)" font-size="7.5" text-anchor="middle" font-family="'Liberation Serif', serif">10</text>
<text transform="translate(443.25,370.2) scale(0.92,1)" font-size="7.5" text-anchor="middle" font-family="'Liberation Serif', serif">15</text>
<text transform="translate(496.5,370.2) scale(0.92,1)" font-size="7.5" text-anchor="middle" font-family="'Liberation Serif', serif">20</text>
<text transform="translate(281.8,229.8) scale(0.92,1)" font-size="7.5" text-anchor="end" font-family="'Liberation Serif', serif">0</text>
<text transform="translate(281.8,284.3) scale(0.92,1)" font-size="7.5" text-anchor="end" font-family="'Liberation Serif', serif">-0.5</text>
<text transform="translate(281.8,338.8) scale(0.92,1)" font-size="7.5" text-anchor="end" font-family="'Liberation Serif', serif">-1</text>
<text class="big" x="390" y="382.7" font-size="12" text-anchor="middle" font-family="'Liberation Serif', serif">r (&#197;)</text>
<text class="big" transform="translate(264.0,287.4) rotate(-90)" x="0" y="0" font-size="12.2" text-anchor="middle" font-family="'Liberation Serif', serif">h<tspan font-size="7.8" dy="4.1">BB</tspan><tspan dy="-4.1">(r)</tspan></text>
<path d="M283.4,334.7C283.57,334.67 283.52,334.68 284.4,334.5C285.28,334.32 287.24,333.85 288.66,333.6C290.09,333.35 291.51,332.97 292.93,333C294.35,333.03 295.77,333.57 297.19,333.8C298.62,334.03 300.04,334.33 301.46,334.4C302.88,334.47 304.3,334.23 305.72,334.2C307.15,334.17 308.57,334.13 309.99,334.2C311.41,334.27 312.83,334.75 314.25,334.6C315.68,334.45 317.1,335.9 318.52,333.3C319.94,330.7 321.36,323.92 322.78,319C324.21,314.08 325.63,309 327.05,303.8C328.47,298.6 329.89,293.13 331.31,287.8C332.74,282.47 334.16,276.48 335.58,271.8C337,267.12 338.42,263.28 339.84,259.7C341.27,256.12 342.69,253.27 344.11,250.3C345.53,247.33 346.95,243.85 348.38,241.9C349.8,239.95 351.22,239.5 352.64,238.6C354.06,237.7 355.48,236.98 356.9,236.5C358.33,236.02 359.75,235.8 361.17,235.7C362.59,235.6 364.01,235.73 365.43,235.9C366.86,236.07 368.28,236.45 369.7,236.7C371.12,236.95 372.54,237.15 373.96,237.4C375.39,237.65 376.81,238.02 378.23,238.2C379.65,238.38 381.07,238.55 382.5,238.5C383.92,238.45 385.34,238.15 386.76,237.9C388.18,237.65 389.6,237.33 391.02,237C392.45,236.67 393.87,236.22 395.29,235.9C396.71,235.58 398.13,235.42 399.55,235.08C400.98,234.74 402.4,234.27 403.82,233.87C405.24,233.46 406.66,233.02 408.08,232.65C409.51,232.28 410.93,231.89 412.35,231.63C413.77,231.37 415.19,231.25 416.62,231.11C418.04,230.97 419.46,230.88 420.88,230.8C422.3,230.71 423.72,230.65 425.14,230.58C426.57,230.51 427.99,230.43 429.41,230.36C430.83,230.29 432.25,230.22 433.67,230.14C435.1,230.07 436.52,230 437.94,229.93C439.36,229.85 440.78,229.76 442.2,229.71C443.63,229.65 445.05,229.63 446.47,229.59C447.89,229.55 449.31,229.51 450.73,229.47C452.16,229.43 453.58,229.4 455,229.36C456.42,229.32 457.84,229.28 459.26,229.24C460.69,229.2 462.11,229.16 463.53,229.12C464.95,229.08 466.37,229.04 467.79,229C469.22,228.97 470.64,228.93 472.06,228.89C473.48,228.85 474.9,228.81 476.32,228.77C477.75,228.73 479.17,228.69 480.59,228.65C482.01,228.61 483.43,228.57 484.85,228.53C486.28,228.5 487.7,228.46 489.12,228.42C490.54,228.38 492.14,228.32 493.38,228.3C494.63,228.28 496.06,228.3 496.6,228.3" fill="none" stroke="#d4532e" stroke-width="1"/>
<circle cx="284.4" cy="335" r="1.85" fill="none" stroke="#0a0302" stroke-width="1"/>
<circle cx="288.66" cy="335" r="1.85" fill="none" stroke="#0a0302" stroke-width="1"/>
<circle cx="292.93" cy="335" r="1.85" fill="none" stroke="#0a0302" stroke-width="1"/>
<circle cx="297.19" cy="335" r="1.85" fill="none" stroke="#0a0302" stroke-width="1"/>
<circle cx="301.46" cy="335" r="1.85" fill="none" stroke="#0a0302" stroke-width="1"/>
<circle cx="305.72" cy="335" r="1.85" fill="none" stroke="#0a0302" stroke-width="1"/>
<circle cx="309.99" cy="335" r="1.85" fill="none" stroke="#0a0302" stroke-width="1"/>
<circle cx="314.25" cy="335" r="1.85" fill="none" stroke="#0a0302" stroke-width="1"/>
<circle cx="318.52" cy="333.3" r="1.85" fill="none" stroke="#0a0302" stroke-width="1"/>
<circle cx="322.78" cy="319" r="1.85" fill="none" stroke="#0a0302" stroke-width="1"/>
<circle cx="327.05" cy="303.8" r="1.85" fill="none" stroke="#0a0302" stroke-width="1"/>
<circle cx="331.31" cy="287.8" r="1.85" fill="none" stroke="#0a0302" stroke-width="1"/>
<circle cx="335.58" cy="271.8" r="1.85" fill="none" stroke="#0a0302" stroke-width="1"/>
<circle cx="339.84" cy="259.7" r="1.85" fill="none" stroke="#0a0302" stroke-width="1"/>
<circle cx="344.11" cy="250.7" r="1.85" fill="none" stroke="#0a0302" stroke-width="1"/>
<circle cx="348.38" cy="242.8" r="1.85" fill="none" stroke="#0a0302" stroke-width="1"/>
<circle cx="352.64" cy="239.5" r="1.85" fill="none" stroke="#0a0302" stroke-width="1"/>
<circle cx="356.9" cy="237.4" r="1.85" fill="none" stroke="#0a0302" stroke-width="1"/>
<circle cx="361.17" cy="236.6" r="1.85" fill="none" stroke="#0a0302" stroke-width="1"/>
<circle cx="365.43" cy="236.8" r="1.85" fill="none" stroke="#0a0302" stroke-width="1"/>
<circle cx="369.7" cy="237.6" r="1.85" fill="none" stroke="#0a0302" stroke-width="1"/>
<circle cx="373.96" cy="238.3" r="1.85" fill="none" stroke="#0a0302" stroke-width="1"/>
<circle cx="378.23" cy="239.1" r="1.85" fill="none" stroke="#0a0302" stroke-width="1"/>
<circle cx="382.5" cy="239.4" r="1.85" fill="none" stroke="#0a0302" stroke-width="1"/>
<circle cx="386.76" cy="238.8" r="1.85" fill="none" stroke="#0a0302" stroke-width="1"/>
<circle cx="391.02" cy="237.9" r="1.85" fill="none" stroke="#0a0302" stroke-width="1"/>
<circle cx="395.29" cy="236.8" r="1.85" fill="none" stroke="#0a0302" stroke-width="1"/>
<circle cx="399.55" cy="235.98" r="1.85" fill="none" stroke="#0a0302" stroke-width="1"/>
<circle cx="403.82" cy="234.77" r="1.85" fill="none" stroke="#0a0302" stroke-width="1"/>
<circle cx="408.08" cy="233.55" r="1.85" fill="none" stroke="#0a0302" stroke-width="1"/>
<circle cx="412.35" cy="232.53" r="1.85" fill="none" stroke="#0a0302" stroke-width="1"/>
<circle cx="416.62" cy="232.01" r="1.85" fill="none" stroke="#0a0302" stroke-width="1"/>
<circle cx="420.88" cy="231.7" r="1.85" fill="none" stroke="#0a0302" stroke-width="1"/>
<circle cx="425.14" cy="231.48" r="1.85" fill="none" stroke="#0a0302" stroke-width="1"/>
<circle cx="429.41" cy="231.26" r="1.85" fill="none" stroke="#0a0302" stroke-width="1"/>
<circle cx="433.67" cy="231.04" r="1.85" fill="none" stroke="#0a0302" stroke-width="1"/>
<circle cx="437.94" cy="230.83" r="1.85" fill="none" stroke="#0a0302" stroke-width="1"/>
<circle cx="442.2" cy="230.61" r="1.85" fill="none" stroke="#0a0302" stroke-width="1"/>
<circle cx="446.47" cy="230.49" r="1.85" fill="none" stroke="#0a0302" stroke-width="1"/>
<circle cx="450.73" cy="230.37" r="1.85" fill="none" stroke="#0a0302" stroke-width="1"/>
<circle cx="455" cy="230.26" r="1.85" fill="none" stroke="#0a0302" stroke-width="1"/>
<circle cx="459.26" cy="230.14" r="1.85" fill="none" stroke="#0a0302" stroke-width="1"/>
<circle cx="463.53" cy="230.02" r="1.85" fill="none" stroke="#0a0302" stroke-width="1"/>
<circle cx="467.79" cy="229.9" r="1.85" fill="none" stroke="#0a0302" stroke-width="1"/>
<circle cx="472.06" cy="229.79" r="1.85" fill="none" stroke="#0a0302" stroke-width="1"/>
<circle cx="476.32" cy="229.67" r="1.85" fill="none" stroke="#0a0302" stroke-width="1"/>
<circle cx="480.59" cy="229.55" r="1.85" fill="none" stroke="#0a0302" stroke-width="1"/>
<circle cx="484.85" cy="229.43" r="1.85" fill="none" stroke="#0a0302" stroke-width="1"/>
<circle cx="489.12" cy="229.32" r="1.85" fill="none" stroke="#0a0302" stroke-width="1"/>
<circle cx="493.38" cy="229.2" r="1.85" fill="none" stroke="#0a0302" stroke-width="1"/>
<path d="M283.25,426.5H496.75M283.25,575.8H496.75" fill="none" stroke="#808080" stroke-width="0.9"/>
<path d="M283.5,426.5V575.8M496.5,426.5V575.8" fill="none" stroke="#808080" stroke-width="0.55"/>
<path d="M336.75,575.8v-4.3M336.75,426.5v4.3M390,575.8v-4.3M390,426.5v4.3M443.25,575.8v-4.3M443.25,426.5v4.3M310.12,575.8v-2.2M310.12,426.5v2.2M363.38,575.8v-2.2M363.38,426.5v2.2M416.62,575.8v-2.2M416.62,426.5v2.2M469.88,575.8v-2.2M469.88,426.5v2.2" stroke="#808080" stroke-width="0.64" fill="none"/>
<path d="M283.5,440.5h4.3M496.5,440.5h-4.3M283.5,494.5h4.3M496.5,494.5h-4.3M283.5,548.5h4.3M496.5,548.5h-4.3M283.5,467.5h2.2M496.5,467.5h-2.2M283.5,521.5h2.2M496.5,521.5h-2.2" stroke="#808080" stroke-width="0.88" fill="none"/>
<text transform="translate(283.5,583.5) scale(0.92,1)" font-size="7.5" text-anchor="middle" font-family="'Liberation Serif', serif">0</text>
<text transform="translate(336.75,583.5) scale(0.92,1)" font-size="7.5" text-anchor="middle" font-family="'Liberation Serif', serif">5</text>
<text transform="translate(390,583.5) scale(0.92,1)" font-size="7.5" text-anchor="middle" font-family="'Liberation Serif', serif">10</text>
<text transform="translate(443.25,583.5) scale(0.92,1)" font-size="7.5" text-anchor="middle" font-family="'Liberation Serif', serif">15</text>
<text transform="translate(496.5,583.5) scale(0.92,1)" font-size="7.5" text-anchor="middle" font-family="'Liberation Serif', serif">20</text>
<text transform="translate(281.8,443.8) scale(0.92,1)" font-size="7.5" text-anchor="end" font-family="'Liberation Serif', serif">0</text>
<text transform="translate(281.8,497.8) scale(0.92,1)" font-size="7.5" text-anchor="end" font-family="'Liberation Serif', serif">-0.5</text>
<text transform="translate(281.8,551.8) scale(0.92,1)" font-size="7.5" text-anchor="end" font-family="'Liberation Serif', serif">-1</text>
<text class="big" x="390" y="596" font-size="12" text-anchor="middle" font-family="'Liberation Serif', serif">r (&#197;)</text>
<text class="big" transform="translate(264.0,500.55) rotate(-90)" x="0" y="0" font-size="12.2" text-anchor="middle" font-family="'Liberation Serif', serif">h<tspan font-size="7.8" dy="4.1">AB</tspan><tspan dy="-4.1">(r)</tspan></text>
<path d="M283.4,548.7C283.57,548.65 283.52,548.68 284.4,548.4C285.28,548.12 287.24,547.43 288.66,547C290.09,546.57 291.51,545.8 292.93,545.8C294.35,545.8 295.77,546.6 297.19,547C298.62,547.4 300.04,548.2 301.46,548.2C302.88,548.2 304.3,547.3 305.72,547C307.15,546.7 308.57,546.27 309.99,546.4C311.41,546.53 312.83,547.7 314.25,547.8C315.68,547.9 317.1,549.57 318.52,547C319.94,544.43 321.36,537.33 322.78,532.4C324.21,527.47 325.63,522.53 327.05,517.4C328.47,512.27 329.89,506.93 331.31,501.6C332.74,496.27 334.16,490.1 335.58,485.4C337,480.7 338.42,476.97 339.84,473.4C341.27,469.83 342.69,466.88 344.11,464C345.53,461.12 346.95,457.85 348.38,456.1C349.8,454.35 351.22,454.08 352.64,453.5C354.06,452.92 355.48,452.75 356.9,452.6C358.33,452.45 359.75,452.42 361.17,452.6C362.59,452.78 364.01,453.32 365.43,453.7C366.86,454.08 368.28,454.63 369.7,454.9C371.12,455.17 372.54,455.23 373.96,455.3C375.39,455.37 376.81,455.37 378.23,455.3C379.65,455.23 381.07,455.17 382.5,454.9C383.92,454.63 385.34,454.08 386.76,453.7C388.18,453.32 389.6,453.03 391.02,452.6C392.45,452.17 393.87,451.6 395.29,451.1C396.71,450.6 398.13,450.09 399.55,449.58C400.98,449.08 402.4,448.49 403.82,448.07C405.24,447.64 406.66,447.37 408.08,447.05C409.51,446.73 410.93,446.39 412.35,446.13C413.77,445.87 415.19,445.7 416.62,445.51C418.04,445.32 419.46,445.13 420.88,445C422.3,444.86 423.72,444.77 425.14,444.68C426.57,444.59 427.99,444.53 429.41,444.46C430.83,444.39 432.25,444.32 433.67,444.24C435.1,444.17 436.52,444.1 437.94,444.03C439.36,443.95 440.78,443.88 442.2,443.81C443.63,443.74 445.05,443.66 446.47,443.59C447.89,443.52 449.31,443.45 450.73,443.37C452.16,443.3 453.58,443.23 455,443.16C456.42,443.08 457.84,442.99 459.26,442.94C460.69,442.88 462.11,442.88 463.53,442.82C464.95,442.77 466.37,442.66 467.79,442.6C469.22,442.55 470.64,442.53 472.06,442.49C473.48,442.45 474.9,442.43 476.32,442.37C477.75,442.31 479.17,442.21 480.59,442.15C482.01,442.1 483.43,442.07 484.85,442.03C486.28,442 487.7,441.96 489.12,441.92C490.54,441.88 492.14,441.82 493.38,441.8C494.63,441.78 496.06,441.8 496.6,441.8" fill="none" stroke="#d4532e" stroke-width="1"/>
<circle cx="284.4" cy="549" r="1.85" fill="none" stroke="#0a0302" stroke-width="1"/>
<circle cx="288.66" cy="549" r="1.85" fill="none" stroke="#0a0302" stroke-width="1"/>
<circle cx="292.93" cy="549" r="1.85" fill="none" stroke="#0a0302" stroke-width="1"/>
<circle cx="297.19" cy="549" r="1.85" fill="none" stroke="#0a0302" stroke-width="1"/>
<circle cx="301.46" cy="549" r="1.85" fill="none" stroke="#0a0302" stroke-width="1"/>
<circle cx="305.72" cy="549" r="1.85" fill="none" stroke="#0a0302" stroke-width="1"/>
<circle cx="309.99" cy="549" r="1.85" fill="none" stroke="#0a0302" stroke-width="1"/>
<circle cx="314.25" cy="549" r="1.85" fill="none" stroke="#0a0302" stroke-width="1"/>
<circle cx="318.52" cy="547" r="1.85" fill="none" stroke="#0a0302" stroke-width="1"/>
<circle cx="322.78" cy="532.4" r="1.85" fill="none" stroke="#0a0302" stroke-width="1"/>
<circle cx="327.05" cy="517.4" r="1.85" fill="none" stroke="#0a0302" stroke-width="1"/>
<circle cx="331.31" cy="501.6" r="1.85" fill="none" stroke="#0a0302" stroke-width="1"/>
<circle cx="335.58" cy="485.4" r="1.85" fill="none" stroke="#0a0302" stroke-width="1"/>
<circle cx="339.84" cy="473.4" r="1.85" fill="none" stroke="#0a0302" stroke-width="1"/>
<circle cx="344.11" cy="464.4" r="1.85" fill="none" stroke="#0a0302" stroke-width="1"/>
<circle cx="348.38" cy="457" r="1.85" fill="none" stroke="#0a0302" stroke-width="1"/>
<circle cx="352.64" cy="454.4" r="1.85" fill="none" stroke="#0a0302" stroke-width="1"/>
<circle cx="356.9" cy="453.5" r="1.85" fill="none" stroke="#0a0302" stroke-width="1"/>
<circle cx="361.17" cy="453.5" r="1.85" fill="none" stroke="#0a0302" stroke-width="1"/>
<circle cx="365.43" cy="454.6" r="1.85" fill="none" stroke="#0a0302" stroke-width="1"/>
<circle cx="369.7" cy="455.8" r="1.85" fill="none" stroke="#0a0302" stroke-width="1"/>
<circle cx="373.96" cy="456.2" r="1.85" fill="none" stroke="#0a0302" stroke-width="1"/>
<circle cx="378.23" cy="456.2" r="1.85" fill="none" stroke="#0a0302" stroke-width="1"/>
<circle cx="382.5" cy="455.8" r="1.85" fill="none" stroke="#0a0302" stroke-width="1"/>
<circle cx="386.76" cy="454.6" r="1.85" fill="none" stroke="#0a0302" stroke-width="1"/>
<circle cx="391.02" cy="453.5" r="1.85" fill="none" stroke="#0a0302" stroke-width="1"/>
<circle cx="395.29" cy="452" r="1.85" fill="none" stroke="#0a0302" stroke-width="1"/>
<circle cx="399.55" cy="450.48" r="1.85" fill="none" stroke="#0a0302" stroke-width="1"/>
<circle cx="403.82" cy="448.97" r="1.85" fill="none" stroke="#0a0302" stroke-width="1"/>
<circle cx="408.08" cy="447.95" r="1.85" fill="none" stroke="#0a0302" stroke-width="1"/>
<circle cx="412.35" cy="447.03" r="1.85" fill="none" stroke="#0a0302" stroke-width="1"/>
<circle cx="416.62" cy="446.41" r="1.85" fill="none" stroke="#0a0302" stroke-width="1"/>
<circle cx="420.88" cy="445.9" r="1.85" fill="none" stroke="#0a0302" stroke-width="1"/>
<circle cx="425.14" cy="445.58" r="1.85" fill="none" stroke="#0a0302" stroke-width="1"/>
<circle cx="429.41" cy="445.36" r="1.85" fill="none" stroke="#0a0302" stroke-width="1"/>
<circle cx="433.67" cy="445.14" r="1.85" fill="none" stroke="#0a0302" stroke-width="1"/>
<circle cx="437.94" cy="444.93" r="1.85" fill="none" stroke="#0a0302" stroke-width="1"/>
<circle cx="442.2" cy="444.71" r="1.85" fill="none" stroke="#0a0302" stroke-width="1"/>
<circle cx="446.47" cy="444.49" r="1.85" fill="none" stroke="#0a0302" stroke-width="1"/>
<circle cx="450.73" cy="444.27" r="1.85" fill="none" stroke="#0a0302" stroke-width="1"/>
<circle cx="455" cy="444.06" r="1.85" fill="none" stroke="#0a0302" stroke-width="1"/>
<circle cx="459.26" cy="443.84" r="1.85" fill="none" stroke="#0a0302" stroke-width="1"/>
<circle cx="463.53" cy="443.72" r="1.85" fill="none" stroke="#0a0302" stroke-width="1"/>
<circle cx="467.79" cy="443.5" r="1.85" fill="none" stroke="#0a0302" stroke-width="1"/>
<circle cx="472.06" cy="443.39" r="1.85" fill="none" stroke="#0a0302" stroke-width="1"/>
<circle cx="476.32" cy="443.27" r="1.85" fill="none" stroke="#0a0302" stroke-width="1"/>
<circle cx="480.59" cy="443.05" r="1.85" fill="none" stroke="#0a0302" stroke-width="1"/>
<circle cx="484.85" cy="442.93" r="1.85" fill="none" stroke="#0a0302" stroke-width="1"/>
<circle cx="489.12" cy="442.82" r="1.85" fill="none" stroke="#0a0302" stroke-width="1"/>
<circle cx="493.38" cy="442.7" r="1.85" fill="none" stroke="#0a0302" stroke-width="1"/>
</svg>
</body></html>
